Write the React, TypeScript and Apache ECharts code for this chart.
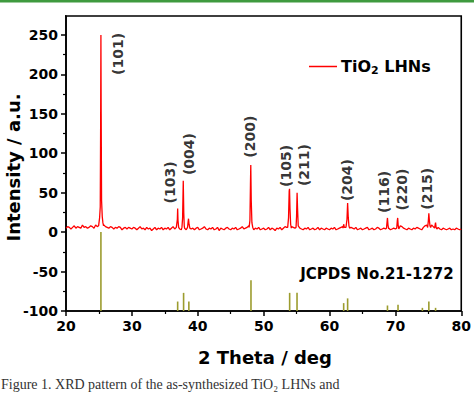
import React, { useEffect, useRef } from 'react';
import * as echarts from 'echarts';

const baseline = [
  5, 7, 6, 4, 6, 8, 5, 7, 6, 5, 9, 6, 7, 5, 6, 8, 7, 5, 9, 7,
  8, 9, 10, 9, 7, 6, 5, 7, 6, 4, 6, 5, 7, 6, 3, 5, 6, 4, 6, 5,
  4, 6, 5, 3, 5, 7, 4, 5, 3, 6, 4, 5, 2, 4, 6, 3, 5, 4, 6, 3,
  5, 4, 6, 3, 5, 7, 4, 6, 5, 4, 3, 6, 5, 3, 4, 6, 4, 5, 3, 5,
  6, 3, 4, 5, 7, 4, 3, 5, 4, 6, 3, 4, 6, 2, 5, 4, 3, 5, 6, 4,
  3, 5, 4, 6, 3, 4, 5, 7, 4, 5, 6, 8, 5, 4, 3, 5, 4, 6, 3, 4,
  5, 3, 4, 6, 3, 5, 4, 2, 5, 4, 6, 3, 5, 7, 6, 8, 9, 7, 6, 5,
  6, 7, 5, 4, 3, 5, 4, 6, 3, 4, 5, 3, 4, 6, 3, 5, 4, 3, 5, 4,
  3, 5, 4, 6, 3, 4, 5, 6, 7, 5, 8, 9, 7, 6, 5, 4, 6, 3, 4, 5,
  3, 4, 5, 6, 3, 4, 5, 3, 4, 6, 5, 3, 4, 5, 4, 6, 5, 3, 4, 5,
  4, 5, 6, 8, 7, 5, 4, 3, 5, 4, 3, 5, 4, 6, 5, 4, 3, 6, 8, 9,
  7, 8, 9, 7, 6, 5, 6, 4, 3, 5, 4, 3, 4, 5, 3, 4, 3, 5, 4, 3,
  4,
];

// Peak profiles [2theta, intensity]
const peak101 = [[24.95, 8], [25.1, 18], [25.2, 32], [25.26, 140], [25.3, 250], [25.34, 150], [25.4, 40], [25.5, 20], [25.6, 12], [25.7, 8]];
const peak103 = [[36.8, 6], [36.9, 16], [36.95, 30], [37.0, 15], [37.1, 6]];
const peak004 = [[37.6, 6], [37.7, 18], [37.8, 65], [37.88, 24], [37.95, 8]];
const peak386 = [[38.45, 6], [38.55, 14], [38.6, 17], [38.68, 10], [38.8, 5]];
const peak200 = [[47.8, 6], [47.92, 15], [48.0, 60], [48.05, 85], [48.12, 40], [48.22, 12], [48.35, 6]];
const peak105 = [[53.65, 6], [53.78, 18], [53.88, 52], [53.93, 55], [54.0, 30], [54.1, 10], [54.2, 5]];
const peak211 = [[54.92, 6], [55.0, 20], [55.08, 50], [55.15, 30], [55.25, 8]];
const peak621 = [[62.05, 5], [62.15, 10], [62.25, 6]];
const peak204 = [[62.5, 6], [62.65, 16], [62.75, 37], [62.85, 18], [62.95, 8], [63.05, 5]];
const peak116 = [[68.65, 5], [68.75, 14], [68.8, 18], [68.88, 9], [68.98, 4]];
const peak220 = [[70.2, 5], [70.3, 15], [70.35, 18], [70.42, 9], [70.52, 4]];
const peak215 = [[74.9, 6], [75.0, 14], [75.08, 24], [75.15, 16], [75.25, 8], [75.35, 6]];
const peak761 = [[75.95, 5], [76.05, 10], [76.1, 12], [76.18, 6], [76.3, 4]];
const peaks = [peak101, peak103, peak004, peak386, peak200, peak105, peak211, peak621, peak204, peak116, peak220, peak215, peak761];

// JCPDS No.21-1272 reference lines (position, top value; drawn up from -100)
const jcpdsPos = [25.3, 36.95, 37.85, 38.65, 48.08, 53.95, 55.07, 62.15, 62.75, 68.8, 70.4, 74.1, 75.08, 76.1];
const jcpdsTop = [0, -88, -77, -88, -61, -77, -77, -90, -84, -93, -92, -96, -88, -96];

// Peak (hkl) labels: name and label center in data coordinates
const hklNames = ['(101)', '(103)', '(004)', '(200)', '(105)', '(211)', '(204)', '(116)', '(220)', '(215)'];
const hklX = [27.93, 35.82, 38.63, 47.9, 53.35, 56.1, 62.66, 68.21, 70.97, 74.75];
const hklY = [226, 63, 99, 121, 84, 85, 66, 51, 54, 55];

const FONT = 'DejaVu Sans';

export default function App() {
  const ref = useRef<HTMLDivElement>(null);
  useEffect(() => {
    document.body.style.margin = '0';
    const chart = echarts.init(ref.current!, undefined, { renderer: 'svg' });

    const ranges = peaks.map((p) => [p[0][0], p[p.length - 1][0]]);
    const pts: number[][] = [];
    baseline.forEach((v, i) => {
      const x = 20 + i * 0.25;
      if (!ranges.some(([a, b]) => x >= a && x <= b)) pts.push([x, v]);
    });
    peaks.forEach((p) => p.forEach((q) => pts.push(q)));
    pts.sort((a, b) => a[0] - b[0]);

    const axisCommon = {
      axisLine: { show: true, onZero: false, lineStyle: { color: '#000', width: 1.6 } },
      axisTick: { show: true, inside: false, length: 5, lineStyle: { color: '#000', width: 1.5 } },
      minorTick: { show: true, splitNumber: 2, length: 3, lineStyle: { color: '#000', width: 1.2 } },
      splitLine: { show: false },
    };

    chart.setOption({
      animation: false,
      grid: { left: 66, right: 11, top: 16, bottom: 82, show: true, borderColor: '#000', borderWidth: 1.6, backgroundColor: 'transparent' },
      xAxis: {
        type: 'value', min: 20, max: 80, interval: 10,
        ...axisCommon,
        axisLabel: { color: '#000', fontFamily: FONT, fontWeight: 'bold', fontSize: 14, margin: 8 },
      },
      yAxis: {
        type: 'value', min: -100, max: 274, interval: 50,
        ...axisCommon,
        axisLabel: {
          color: '#000', fontFamily: FONT, fontWeight: 'bold', fontSize: 14, margin: 8,
          formatter: (v: number) => (v % 50 === 0 ? String(v) : ''),
        },
      },
      series: [
        {
          type: 'custom',
          name: 'JCPDS',
          z: 2,
          data: jcpdsPos.map((x, i) => [x, jcpdsTop[i]]),
          renderItem: (params: any, api: any) => {
            const x = api.value(0);
            const top = api.value(1);
            const p0 = api.coord([x, -100]);
            const p1 = api.coord([x, top]);
            return {
              type: 'line',
              shape: { x1: p0[0], y1: p0[1], x2: p1[0], y2: p1[1] },
              style: { stroke: '#9c9c2e', lineWidth: 1.6 },
            };
          },
        },
        {
          type: 'line',
          name: 'TiO2 LHNs',
          z: 3,
          data: pts,
          showSymbol: false,
          symbol: 'none',
          lineStyle: { color: '#ff0000', width: 1.3 },
        },
        {
          type: 'scatter',
          z: 4,
          symbolSize: 1,
          itemStyle: { color: 'transparent' },
          data: hklNames.map((n, i) => ({ name: n, value: [hklX[i], hklY[i]] })),
          label: {
            show: true, position: 'inside', rotate: 90, formatter: '{b}',
            color: '#000', fontFamily: FONT, fontWeight: 'bold', fontSize: 14,
          },
        },
      ],
      graphic: [
        { type: 'rect', z: 100, shape: { x: 0, y: 0, width: 474, height: 2.5 }, style: { fill: '#3f9a3f' } },
        { type: 'rect', z: 100, shape: { x: 52, y: 12, width: 13, height: 16 }, style: { fill: '#fff' } },
        { type: 'line', z: 100, shape: { x1: 309, y1: 66.5, x2: 337, y2: 66.5 }, style: { stroke: '#ff0000', lineWidth: 1.5 } },
        {
          type: 'text', z: 100, x: 341, y: 66,
          style: {
            text: '{a|TiO}{b|2}{a| LHNs}',
            verticalAlign: 'middle',
            rich: {
              a: { fontFamily: FONT, fontWeight: 'bold', fontSize: 16, fill: '#000' },
              b: { fontFamily: FONT, fontWeight: 'bold', fontSize: 11, fill: '#000', padding: [9, 0, 0, 0] },
            },
          },
        },
        {
          type: 'text', z: 100, x: 377, y: 274,
          style: { text: 'JCPDS No.21-1272', fontFamily: FONT, fontWeight: 'bold', fontSize: 15, fill: '#000', align: 'center', verticalAlign: 'middle' },
        },
        {
          type: 'text', z: 100, x: 265, y: 357,
          style: { text: '2 Theta / deg', fontFamily: FONT, fontWeight: 'bold', fontSize: 18, fill: '#000', align: 'center', verticalAlign: 'middle' },
        },
        {
          type: 'text', z: 100, x: 13, y: 167.5, rotation: Math.PI / 2,
          style: { text: 'Intensity / a.u.', fontFamily: FONT, fontWeight: 'bold', fontSize: 18, fill: '#000', align: 'center', verticalAlign: 'middle' },
        },
        {
          type: 'text', z: 100, x: 1, y: 377,
          style: { text: 'Figure 1. XRD pattern of the as-synthesized TiO\u2082 LHNs and', fontFamily: 'Liberation Serif', fontSize: 14, fill: '#333', align: 'left', verticalAlign: 'top' },
        },
      ],
    });
    return () => chart.dispose();
  }, []);
  return (
    <div style={{ position: 'fixed', left: 0, top: 0, width: 474, height: 393, background: '#fff', overflow: 'hidden' }}>
      <div ref={ref} style={{ width: 474, height: 393 }} />
    </div>
  );
}
